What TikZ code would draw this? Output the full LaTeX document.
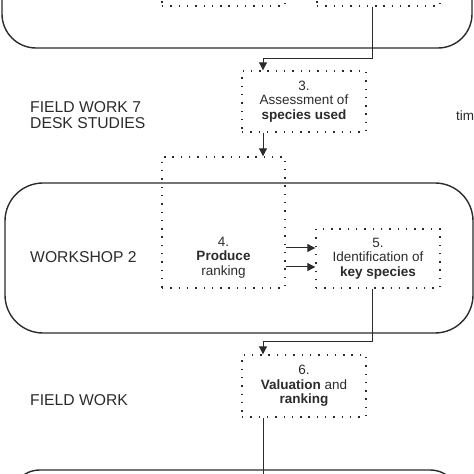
\documentclass[tikz,border=0pt]{standalone}
\usepackage{fontspec}
\setmainfont{Liberation Sans}
\usetikzlibrary{arrows.meta, positioning, calc}
\definecolor{ink}{HTML}{2B2B2B}
\tikzstyle{stage} = [rectangle, draw=ink, rounded corners=34pt, line width=1.4pt, inner sep=0pt]
\tikzstyle{task} = [rectangle, draw=ink, line width=1.4pt, dash pattern=on 1.4pt off 6.9pt, align=center, text=ink, font=\fontsize{13.5}{14.5}\selectfont, inner sep=0pt]
\tikzstyle{phase} = [align=left, anchor=west, text=ink, font=\fontsize{15.7}{16.7}\selectfont, inner sep=0pt]
\tikzstyle{line} = [draw=ink, line width=1pt, -{Triangle[length=8pt,width=8pt]}]
\tikzstyle{plain} = [draw=ink, line width=1pt]

\begin{document}
\begin{tikzpicture}[x=1pt, y=1pt]
    \clip (0,0) rectangle (474,474);
    %%% Workshop 1 (cut off):
    \node[stage, minimum width=470pt, minimum height=134pt] (ws1) at (237,493) {};
    \node[task, minimum width=123pt, minimum height=62pt] (box1) at (223.5,499) {};
    \node[task, minimum width=123pt, minimum height=62pt] (box2) at (378.5,499) {};
    %%% Field work 7 desk studies:
    \node[phase] (fw7) at (30,359) {FIELD WORK 7\\DESK STUDIES};
    \node[task, minimum width=124pt, minimum height=61pt] (box3) at (304,372.5)
        {3.\\Assessment of\\\textbf{species used}};
    \node[phase, font=\fontsize{13.5}{14.5}\selectfont] (tim) at (456,358) {tim};
    %%% Workshop 2:
    \node[stage, rounded corners=38pt, minimum width=468pt, minimum height=150pt] (ws2) at (239,216) {};
    \node[phase] (ws2label) at (30,217) {WORKSHOP 2};
    \node[task, minimum width=123pt, minimum height=131pt] (box4) at (223.5,251.5) {};
    \node[task, draw=none] (box4txt) at (223.5,216.5) {4.\\\textbf{Produce}\\ranking};
    \node[task, minimum width=124pt, minimum height=59pt] (box5) at (378,215.5)
        {5.\\Identification of\\\textbf{key species}};
    %%% Field work:
    \node[phase] (fw) at (30,73.5) {FIELD WORK};
    \node[task, minimum width=124pt, minimum height=62pt] (box6) at (304,88)
        {6.\\\textbf{Valuation} and\\\textbf{ranking}};
    %%% Next workshop (cut off):
    \node[stage, rounded corners=30pt, minimum width=450pt, minimum height=84pt] (ws3) at (235,-38) {};
    %%% Connectors:
    \coordinate (in1) at ([yshift=10.5pt]box5.west);
    \coordinate (in2) at ([yshift=-8.5pt]box5.west);
    \coordinate (out) at (263,0);
    \path [line] ([xshift=-6.5pt]box2.south) -- ++(0,-52pt) -| ([xshift=-41pt]box3.north);
    \path [line] ([xshift=-41pt]box3.south) -- ([xshift=39.5pt]box4.north);
    \path [line] (box4.east |- in1) -- (in1);
    \path [line] (box4.east |- in2) -- (in2);
    \path [line] ([xshift=-6pt]box5.south) -- ++(0,-53pt) -| ([xshift=-41pt]box6.north);
    \path [plain] ([xshift=-41pt]box6.south) -- (out);
\end{tikzpicture}
\end{document}
